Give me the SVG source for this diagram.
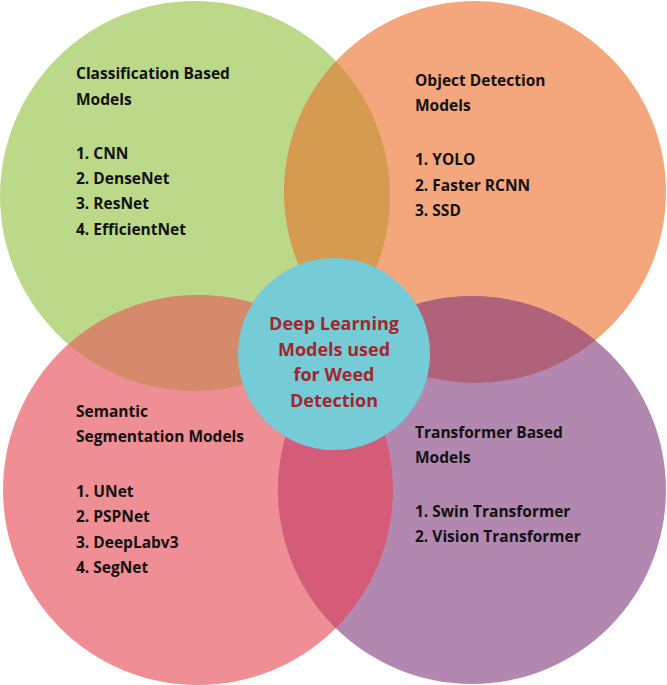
<svg xmlns="http://www.w3.org/2000/svg" width="667" height="685" viewBox="0 0 667 685">
<style>
.t{font-family:"Open Sans","Liberation Sans",sans-serif;font-weight:bold;font-size:15.5px;fill:#111}
.c{font-family:"Open Sans","Liberation Sans",sans-serif;font-weight:bold;font-size:18px;fill:#a3262c;text-anchor:middle}
</style>
<defs>
<clipPath id="cg"><circle cx="195" cy="196" r="195"/></clipPath>
<clipPath id="cp"><circle cx="198" cy="490" r="195"/></clipPath>
<clipPath id="cu"><circle cx="472" cy="490" r="194"/></clipPath>
</defs>
<g id="green"><circle cx="195" cy="196" r="195" fill="#bcd98a"/></g>
<g id="orange"><circle cx="475" cy="192" r="191" fill="#f4a77c"/>
<circle cx="475" cy="192" r="191" fill="#d59b50" clip-path="url(#cg)"/></g>
<g id="pink"><circle cx="198" cy="490" r="195" fill="#ef8e95"/>
<circle cx="198" cy="490" r="195" fill="#d68a6c" clip-path="url(#cg)"/></g>
<g id="purple"><circle cx="472" cy="490" r="194" fill="#b288b0"/>
<circle cx="475" cy="192" r="191" fill="#b0627a" clip-path="url(#cu)"/>
<g clip-path="url(#cu)"><circle cx="198" cy="490" r="195" fill="#d45c78"/></g></g>
<g id="center"><circle cx="334" cy="354" r="96" fill="#76ccd6"/>
<text class="c" x="334" y="330">Deep Learning</text>
<text class="c" x="334" y="356">Models used</text>
<text class="c" x="334" y="381">for Weed</text>
<text class="c" x="334" y="407">Detection</text></g>
<g id="labels">
<text class="t" x="76" y="79">Classification Based</text>
<text class="t" x="76" y="105">Models</text>
<text class="t" x="76" y="159">1. CNN</text>
<text class="t" x="76" y="184">2. DenseNet</text>
<text class="t" x="76" y="209">3. ResNet</text>
<text class="t" x="76" y="235">4. EfficientNet</text>
<text class="t" x="415" y="86">Object Detection</text>
<text class="t" x="415" y="111">Models</text>
<text class="t" x="415" y="165">1. YOLO</text>
<text class="t" x="415" y="191">2. Faster RCNN</text>
<text class="t" x="415" y="216">3. SSD</text>
<text class="t" x="76" y="417">Semantic</text>
<text class="t" x="76" y="442">Segmentation Models</text>
<text class="t" x="76" y="497">1. UNet</text>
<text class="t" x="76" y="522">2. PSPNet</text>
<text class="t" x="76" y="548">3. DeepLabv3</text>
<text class="t" x="76" y="573">4. SegNet</text>
<text class="t" x="415" y="438">Transformer Based</text>
<text class="t" x="415" y="463">Models</text>
<text class="t" x="415" y="517">1. Swin Transformer</text>
<text class="t" x="415" y="542">2. Vision Transformer</text>
</g>
</svg>
